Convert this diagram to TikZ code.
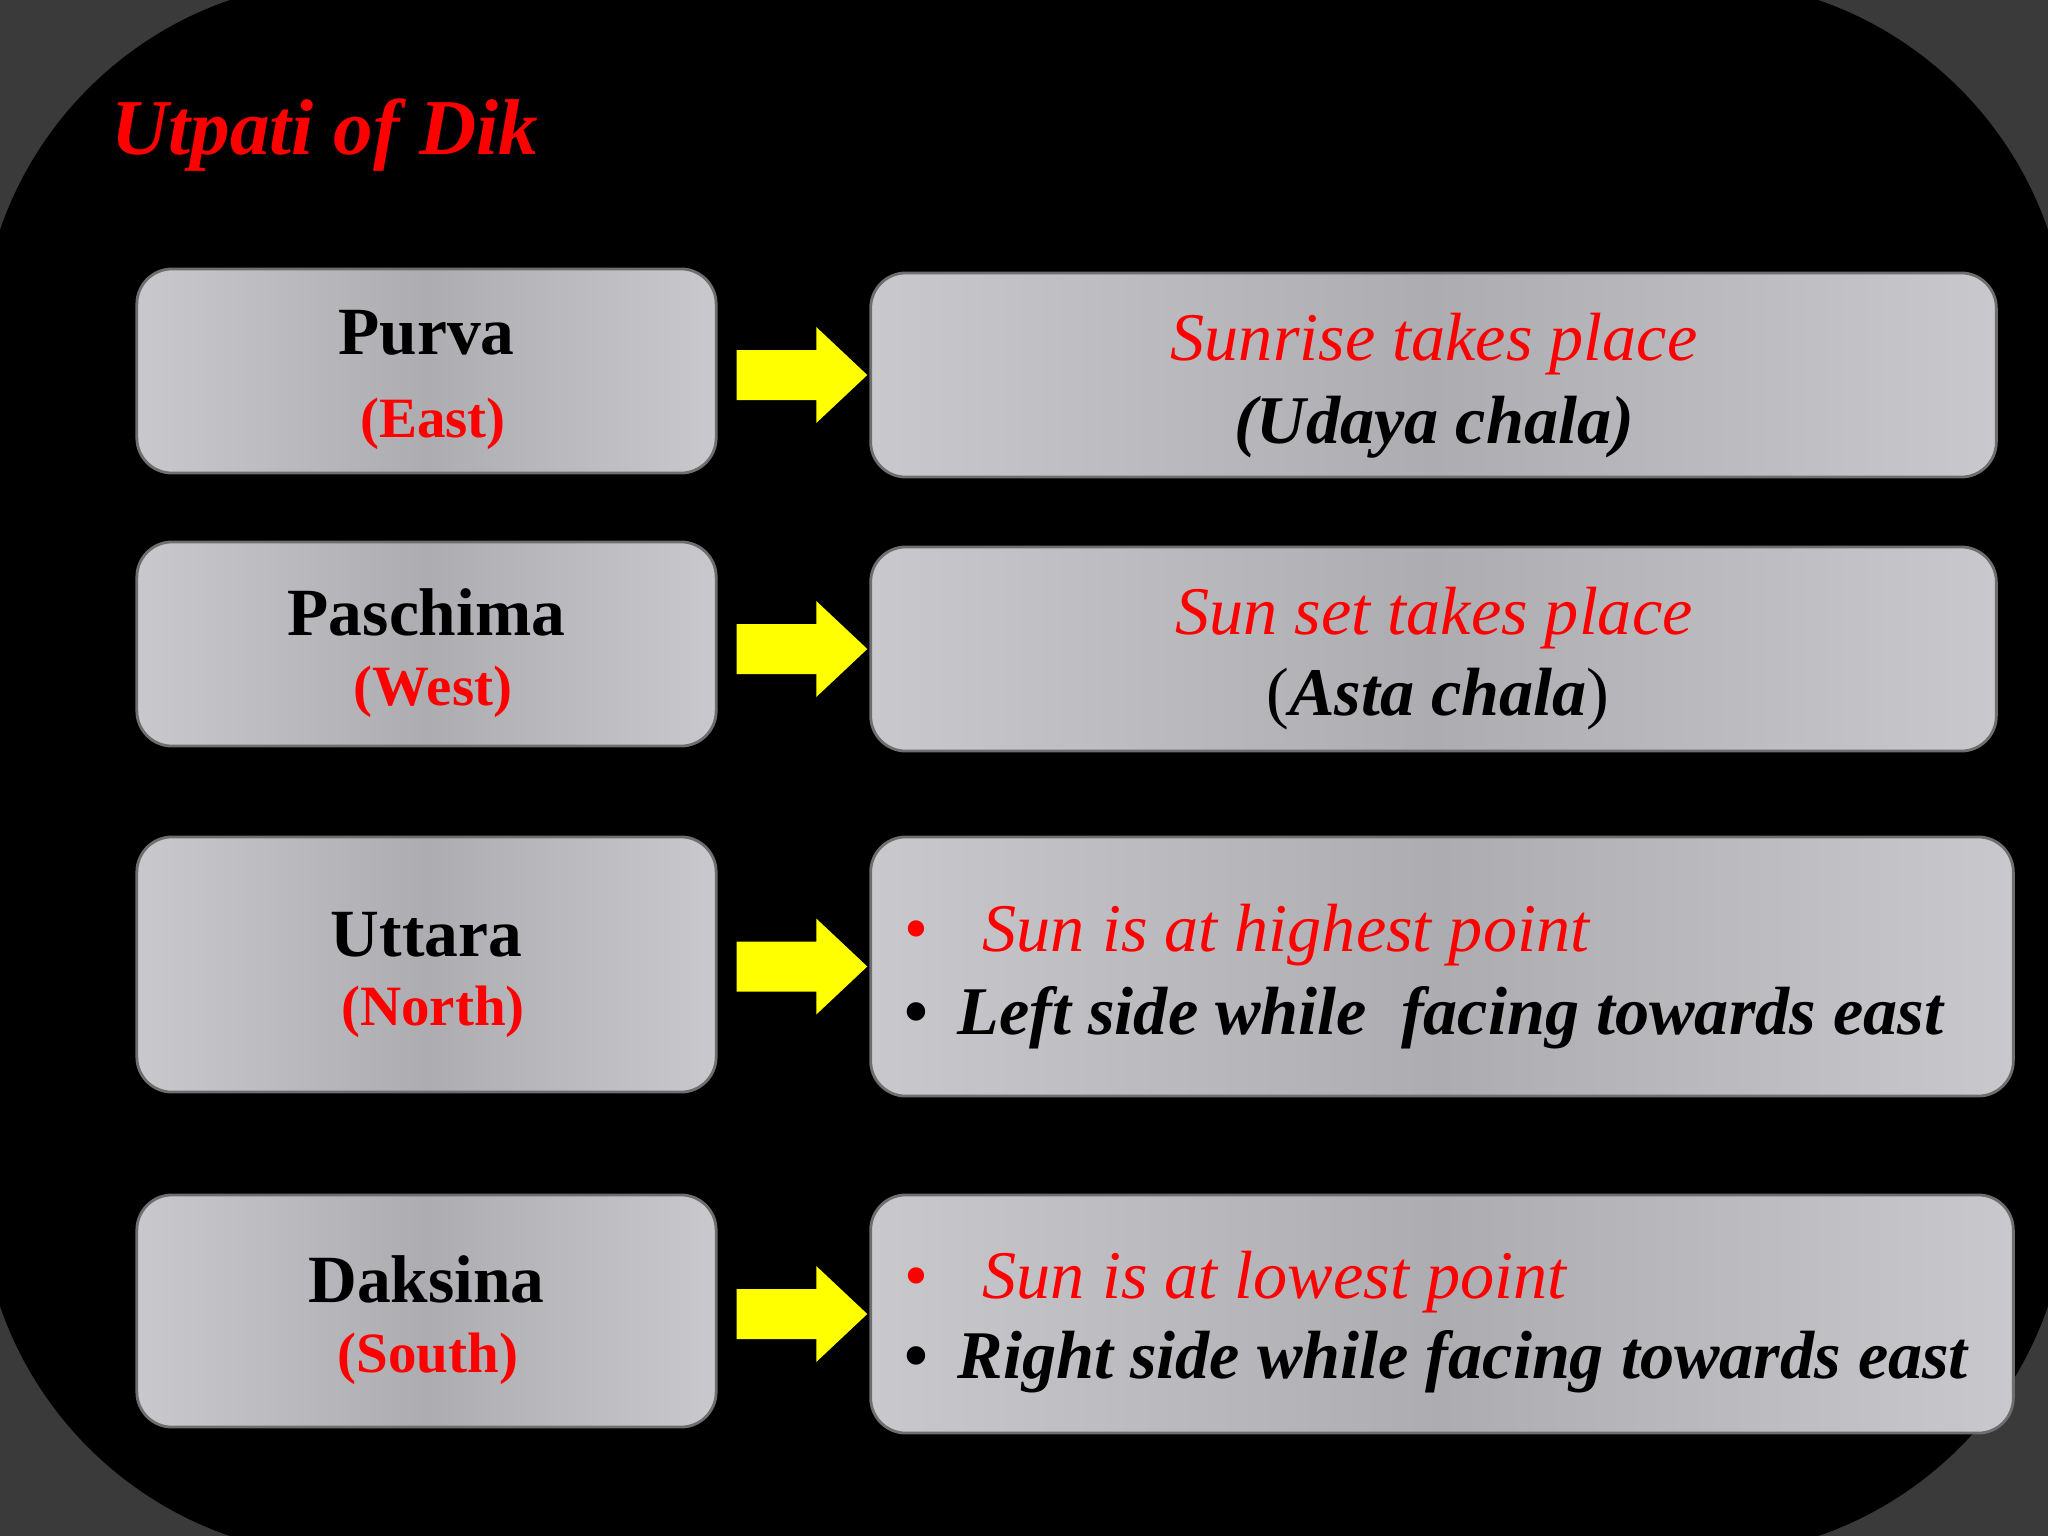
\documentclass[tikz,border=0pt]{standalone}
\usepackage{fontspec}
\setmainfont{Liberation Serif}
\usetikzlibrary{calc}
\definecolor{bggray}{HTML}{3A3A3A}
\definecolor{boxA}{HTML}{C9C9CD}
\definecolor{boxB}{HTML}{ADACB0}
\definecolor{boxC}{HTML}{C9C8CC}
\definecolor{boxline}{HTML}{6E6E6E}
\definecolor{ttred}{HTML}{FF0000}
\definecolor{arrowyellow}{HTML}{FFFF00}
\tikzset{
  panel/.style={draw=boxline, line width=0.8pt, rounded corners=10pt,
    left color=boxA, right color=boxC, middle color=boxB, inner sep=0pt},
  dirname/.style={inner sep=0pt, text=black, font=\fontsize{19.2}{23}\selectfont\bfseries},
  dirsub/.style={inner sep=0pt, text=ttred, font=\fontsize{16.2}{20}\selectfont\bfseries},
  redline/.style={inner sep=0pt, text=ttred, font=\fontsize{19.4}{23}\selectfont\itshape},
  blkline/.style={inner sep=0pt, text=black, font=\fontsize{19.4}{23}\selectfont\bfseries\itshape},
  bulletred/.style={inner sep=0pt, text=ttred, font=\fontsize{19.4}{23}\selectfont},
  bulletblk/.style={inner sep=0pt, text=black, font=\fontsize{19.4}{23}\selectfont\bfseries},
  titletext/.style={inner sep=0pt, text=ttred, font=\fontsize{22.5}{27}\selectfont\bfseries\itshape},
  yarrow/.style={fill=arrowyellow}
}
\newcommand\myyarrow[3]{%
  \coordinate (#3s) at (#1.east |- #2.west);
  \coordinate (#3t) at ($(#2.west)+(-2,0)$);
  \fill[yarrow] ($(#3s)+(19,-25)$) -- ($(#3t)+(-51,-25)$) -- ($(#3t)+(-51,-48)$)
    -- (#3t) -- ($(#3t)+(-51,48)$) -- ($(#3t)+(-51,25)$) -- ($(#3s)+(19,25)$) -- cycle;}
\begin{document}
\begin{tikzpicture}[x=0.01cm, y=-0.01cm]
\useasboundingbox (0,0) rectangle (2048,1536);
\begin{scope}
\clip (0,0) rectangle (2048,1536);
\fill[bggray] (0,0) rectangle (2048,1536);
\fill[black, rounded corners=3.7cm] (-20,-20) rectangle (2068,1556);
\end{scope}

\node[titletext, anchor=base west] (title) at (111,154) {Utpati of Dik};

% left boxes
\node[panel, minimum width=5.79cm, minimum height=2.04cm] (L1) at (426.5,371) {};
\node[panel, minimum width=5.79cm, minimum height=2.04cm] (L2) at (426.5,644) {};
\node[panel, minimum width=5.79cm, minimum height=2.55cm] (L3) at (426.5,964.5) {};
\node[panel, minimum width=5.79cm, minimum height=2.32cm] (L4) at (426.5,1311) {};

% right boxes
\node[panel, minimum width=11.25cm, minimum height=2.04cm] (R1) at (1433.5,375) {};
\node[panel, minimum width=11.25cm, minimum height=2.04cm] (R2) at (1433.5,649) {};
\node[panel, minimum width=11.42cm, minimum height=2.59cm] (R3) at (1442,966.5) {};
\node[panel, minimum width=11.42cm, minimum height=2.38cm] (R4) at (1442,1314) {};

% left texts
\node[dirname, anchor=base] (n1) at (426.5,354) {Purva};
\node[dirsub, anchor=base] (s1) at (433,437) {(East)};
\node[dirname, anchor=base] (n2) at (426.5,635) {Paschima};
\node[dirsub, anchor=base] (s2) at (433,705) {(West)};
\node[dirname, anchor=base] (n3) at (426.5,956) {Uttara};
\node[dirsub, anchor=base] (s3) at (433,1025) {(North)};
\node[dirname, anchor=base] (n4) at (426.5,1302) {Daksina};
\node[dirsub, anchor=base] (s4) at (428,1372) {(South)};

% right texts
\node[redline, anchor=base] (r1a) at (1434,360) {Sunrise takes place};
\node[blkline, anchor=base] (r1b) at (1434,443) {(Udaya chala)};
\node[redline, anchor=base] (r2a) at (1434,634) {Sun set takes place};
\node[blkline, anchor=base] (r2b) at (1438,715) {{\mdseries\upshape(}Asta chala{\mdseries\upshape)}};
\node[bulletred, anchor=base] (b3a) at (916,951) {\textbullet};
\node[redline, anchor=base west] (r3a) at (982,951) {Sun is at highest point};
\node[bulletblk, anchor=base] (b3b) at (916,1034) {\textbullet};
\node[blkline, anchor=base west] (r3b) at (957,1034) {Left side while\ \ facing towards east};
\node[bulletred, anchor=base] (b4a) at (916,1298) {\textbullet};
\node[redline, anchor=base west] (r4a) at (982,1298) {Sun is at lowest point};
\node[bulletblk, anchor=base] (b4b) at (916,1378) {\textbullet};
\node[blkline, anchor=base west] (r4b) at (957,1378) {Right side while facing towards east};

% arrows
\myyarrow{L1}{R1}{a1}
\myyarrow{L2}{R2}{a2}
\myyarrow{L3}{R3}{a3}
\myyarrow{L4}{R4}{a4}
\end{tikzpicture}
\end{document}
